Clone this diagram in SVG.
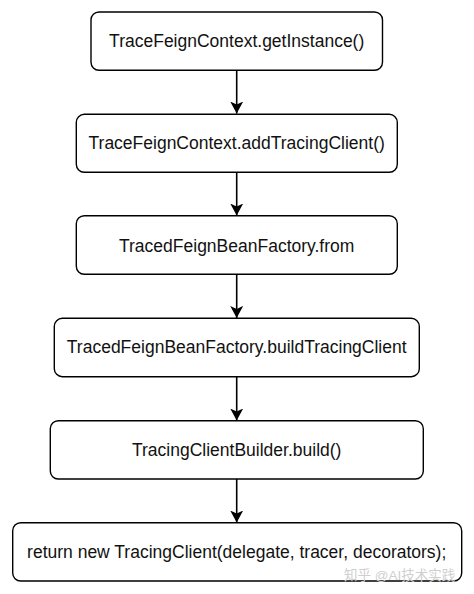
<svg xmlns="http://www.w3.org/2000/svg" width="474" height="594" viewBox="0 0 474 594">
<style>
.box{fill:#ffffff;stroke:#000000;stroke-width:1.4}
.lbl{font-family:"Liberation Sans",Arial,sans-serif;font-size:17.5px;fill:#111111;text-anchor:middle}
.edge{stroke:#000000;stroke-width:1.6;fill:none}
.wm{font-family:"Liberation Sans","Noto Sans CJK SC",sans-serif;font-size:13.5px;fill:#cfcfcf}
</style>
<defs>
<marker id="arr" viewBox="0 0 12 13" refX="12" refY="6.5" markerWidth="12" markerHeight="13" markerUnits="userSpaceOnUse" orient="auto">
<path d="M0,0 L12,6.5 L0,13 L3,6.5 Z" fill="#000000"/>
</marker>
</defs>
<rect width="474" height="594" fill="#ffffff"/>
<g id="connectors">
<line class="edge" x1="236.7" y1="70.3" x2="236.7" y2="113.5" marker-end="url(#arr)"/>
<line class="edge" x1="236.7" y1="172.3" x2="236.7" y2="215.5" marker-end="url(#arr)"/>
<line class="edge" x1="236.7" y1="274.3" x2="236.7" y2="318" marker-end="url(#arr)"/>
<line class="edge" x1="236.7" y1="376.7" x2="236.7" y2="420.5" marker-end="url(#arr)"/>
<line class="edge" x1="236.7" y1="479" x2="236.7" y2="522.5" marker-end="url(#arr)"/>
</g>
<g id="n1">
<rect class="box" x="91" y="12" width="291.5" height="58.3" rx="8"/>
<text class="lbl" x="236.7" y="46.7">TraceFeignContext.getInstance()</text>
</g>
<g id="n2">
<rect class="box" x="76.3" y="114.3" width="321" height="58" rx="8"/>
<text class="lbl" x="236.7" y="149.3">TraceFeignContext.addTracingClient()</text>
</g>
<g id="n3">
<rect class="box" x="76.3" y="215.7" width="321" height="58.6" rx="8"/>
<text class="lbl" x="236.7" y="251.7">TracedFeignBeanFactory.from</text>
</g>
<g id="n4">
<rect class="box" x="54.3" y="318.3" width="365" height="58.4" rx="8"/>
<text class="lbl" x="236.7" y="353.3">TracedFeignBeanFactory.buildTracingClient</text>
</g>
<g id="n5">
<rect class="box" x="50.3" y="420.7" width="373" height="58.3" rx="8"/>
<text class="lbl" x="236.7" y="456">TracingClientBuilder.build()</text>
</g>
<g id="n6">
<rect class="box" x="12.7" y="522.7" width="449" height="58.3" rx="8"/>
<text class="lbl" x="236.7" y="557.7">return new TracingClient(delegate, tracer, decorators);</text>
</g>
<text class="wm" x="344" y="580">知乎 @AI技术实践</text>
</svg>
